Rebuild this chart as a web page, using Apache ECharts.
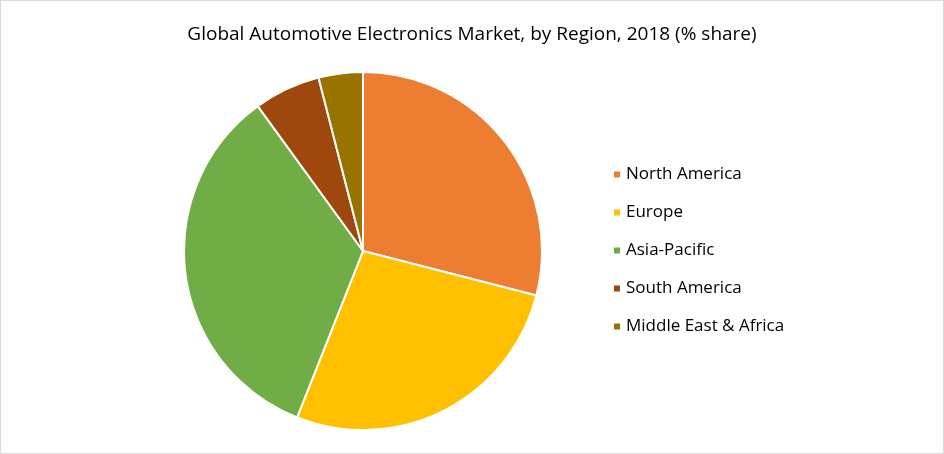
<!DOCTYPE html>
<html><head><meta charset="utf-8">
<script src="https://cdn.jsdelivr.net/npm/echarts@6/dist/echarts.min.js"></script>
<style>html,body{margin:0;padding:0;background:#fff}#c{width:942px;height:452px;border:1px solid #d9d9d9}</style>
</head><body><div id="c"></div>
<script>
const categories = ['North America','Europe','Asia-Pacific','South America','Middle East & Africa'];
const values = [29,27,34,6,4];
const colors = ['#ED7D31','#FFC000','#70AD47','#9E480E','#997300'];
const chart = echarts.init(document.getElementById('c'));
chart.setOption({
  animation:false,
  title:{text:'Global Automotive Electronics Market, by Region, 2018 (% share)',left:'center',top:19,
    textStyle:{fontFamily:'Open Sans',fontSize:19,fontWeight:'normal',color:'#000'}},
  legend:{orient:'vertical',left:606,top:160,itemWidth:8,itemHeight:8,itemGap:21,icon:'rect',
    textStyle:{fontFamily:'Open Sans',fontSize:17,color:'#000'},data:categories},
  color:colors,
  series:[{type:'pie',center:[362,250],radius:[0,179],startAngle:90,clockwise:true,
    label:{show:false},labelLine:{show:false},
    itemStyle:{borderColor:'#fff',borderWidth:2},
    data:categories.map((n,i)=>({name:n,value:values[i]}))}]
});
</script></body></html>
